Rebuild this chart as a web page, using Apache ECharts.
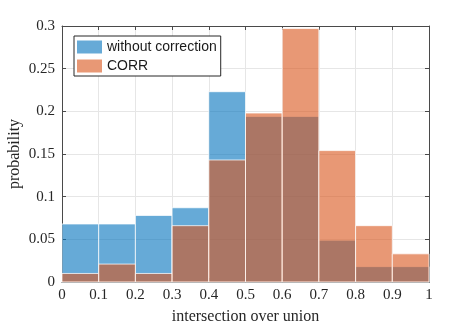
<!DOCTYPE html>
<html>
<head>
<meta charset="utf-8">
<script src="https://cdn.jsdelivr.net/npm/echarts@6/dist/echarts.min.js"></script>
<style>html,body{margin:0;padding:0;background:#fff;}#c{width:474px;height:328px;}</style>
</head>
<body>
<div id="c"></div>
<script>
const binStart = [0, 0.1, 0.2, 0.3, 0.4, 0.5, 0.6, 0.7, 0.8, 0.9];
const binEnd   = [0.1, 0.2, 0.3, 0.4, 0.5, 0.6, 0.7, 0.8, 0.9, 1.0];
const withoutCorrection = [0.068, 0.068, 0.078, 0.087, 0.223, 0.194, 0.194, 0.049, 0.018, 0.018];
const corr              = [0.010, 0.021, 0.010, 0.066, 0.143, 0.198, 0.297, 0.154, 0.066, 0.033];
const seriesNames = ['without correction', 'CORR'];
const xTicks = [0, 0.1, 0.2, 0.3, 0.4, 0.5, 0.6, 0.7, 0.8, 0.9, 1];
const yTicks = [0, 0.05, 0.1, 0.15, 0.2, 0.25, 0.3];

const blue = 'rgba(0,114,189,0.6)';
const orange = 'rgba(217,83,25,0.6)';
const serif = '"Liberation Serif","DejaVu Serif",serif';
const axisCol = '#4a4a4a';

function mk(vals) {
  return vals.map((v, i) => [binStart[i], binEnd[i], v]);
}
function render(color) {
  return function (params, api) {
    const p0 = api.coord([api.value(0), api.value(2)]);
    const p1 = api.coord([api.value(1), 0]);
    return {
      type: 'rect',
      shape: { x: p0[0], y: p0[1], width: p1[0] - p0[0], height: p1[1] - p0[1] },
      style: { fill: color, stroke: 'rgba(255,255,255,0.75)', lineWidth: 1 }
    };
  };
}
const fmt = v => (Math.round(v * 100) / 100).toString();

const chart = echarts.init(document.getElementById('c'), null, { renderer: 'canvas' });
chart.setOption({
  animation: false,
  backgroundColor: '#fff',
  grid: { left: 62, right: 45, top: 26, bottom: 46, containLabel: false, outerBoundsMode: 'none' },
  legend: {
    orient: 'vertical', left: 74, top: 36,
    data: seriesNames.map(n => ({ name: n, icon: 'rect' })),
    itemWidth: 25, itemHeight: 13, itemGap: 5,
    padding: [4, 4, 3, 3],
    borderColor: '#262626', borderWidth: 1, backgroundColor: '#fff',
    textStyle: { fontFamily: '"Liberation Sans",Arial,sans-serif', fontSize: 14, color: '#1a1a1a' }
  },
  xAxis: [{
    type: 'value', min: 0, max: 1, interval: 0.1,
    name: 'intersection over union', nameLocation: 'middle', nameGap: 27, nameMoveOverlap: false,
    nameTextStyle: { fontFamily: serif, fontSize: 16, color: '#262626' },
    axisLine: { show: true, lineStyle: { color: axisCol } },
    axisTick: { show: true, inside: true, length: 4, lineStyle: { color: axisCol } },
    axisLabel: { fontFamily: serif, fontSize: 15, color: '#262626', margin: 6, formatter: fmt },
    splitLine: { show: true, lineStyle: { color: '#e6e6e6' } }
  }, {
    type: 'value', min: 0, max: 1, interval: 0.1, position: 'top',
    axisLine: { show: true, onZero: false, lineStyle: { color: axisCol } },
    axisTick: { show: true, inside: true, length: 4, lineStyle: { color: axisCol } },
    axisLabel: { show: false }, splitLine: { show: false }
  }],
  yAxis: [{
    type: 'value', min: 0, max: 0.3, interval: 0.05,
    name: 'probability', nameLocation: 'middle', nameGap: 39, nameMoveOverlap: false,
    nameTextStyle: { fontFamily: serif, fontSize: 16, color: '#262626' },
    axisLine: { show: true, lineStyle: { color: axisCol } },
    axisTick: { show: true, inside: true, length: 4, lineStyle: { color: axisCol } },
    axisLabel: { fontFamily: serif, fontSize: 15, color: '#262626', margin: 7, formatter: fmt },
    splitLine: { show: true, lineStyle: { color: '#e6e6e6' } }
  }, {
    type: 'value', min: 0, max: 0.3, interval: 0.05, position: 'right',
    axisLine: { show: true, onZero: false, lineStyle: { color: axisCol } },
    axisTick: { show: true, inside: true, length: 4, lineStyle: { color: axisCol } },
    axisLabel: { show: false }, splitLine: { show: false }
  }],
  series: [
    { name: seriesNames[0], type: 'custom', renderItem: render(blue), itemStyle: { color: blue },
      encode: { x: [0, 1], y: 2 }, data: mk(withoutCorrection), z: 2 },
    { name: seriesNames[1], type: 'custom', renderItem: render(orange), itemStyle: { color: orange },
      encode: { x: [0, 1], y: 2 }, data: mk(corr), z: 3 }
  ]
});
</script>
</body>
</html>
